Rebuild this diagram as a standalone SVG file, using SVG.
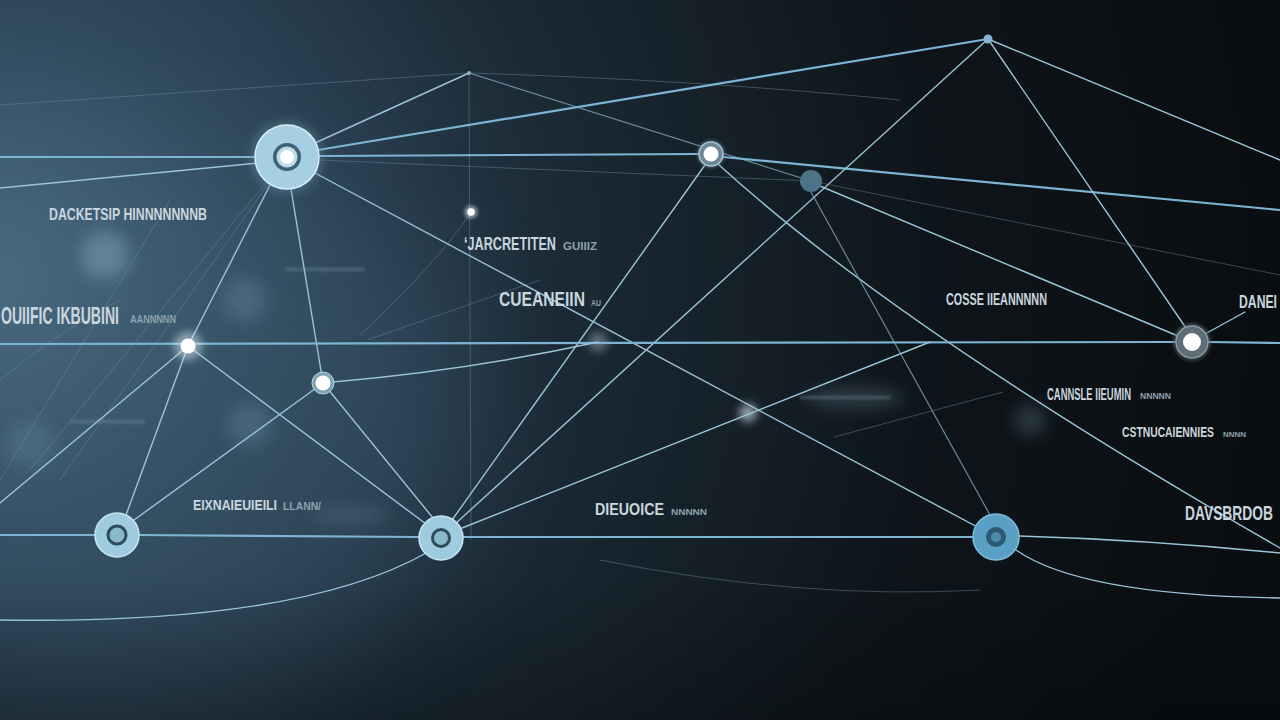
<svg xmlns="http://www.w3.org/2000/svg" width="1280" height="720" viewBox="0 0 1280 720">
<defs>
<radialGradient id="bg1" cx="0" cy="280" r="1250" gradientUnits="userSpaceOnUse">
<stop offset="0" stop-color="#4d6f86"/>
<stop offset="0.2" stop-color="#314b5e"/>
<stop offset="0.45" stop-color="#1b2a35"/>
<stop offset="0.75" stop-color="#0e151a"/>
<stop offset="1" stop-color="#0a0e11"/>
</radialGradient>
<linearGradient id="bgv" x1="0" y1="0" x2="0" y2="720" gradientUnits="userSpaceOnUse">
<stop offset="0" stop-color="#000" stop-opacity="0"/>
<stop offset="0.8" stop-color="#000" stop-opacity="0"/>
<stop offset="1" stop-color="#000" stop-opacity="0.2"/>
</linearGradient>
<filter id="blur8" x="-100%" y="-100%" width="300%" height="300%"><feGaussianBlur stdDeviation="8"/></filter>
<filter id="blur40" x="-100%" y="-100%" width="300%" height="300%"><feGaussianBlur stdDeviation="60"/></filter>
<filter id="blur4" x="-100%" y="-100%" width="300%" height="300%"><feGaussianBlur stdDeviation="4"/></filter>
<filter id="blur2" x="-100%" y="-100%" width="300%" height="300%"><feGaussianBlur stdDeviation="1.6"/></filter>
<filter id="blur1" x="-50%" y="-50%" width="200%" height="200%"><feGaussianBlur stdDeviation="0.6"/></filter>
<style>
.strong{fill:none;stroke:#7db4d4;stroke-width:2.2;stroke-linecap:round}
.thin{fill:none;stroke:#9ac4d8;stroke-width:1.4;stroke-linecap:round}
.mid{fill:none;stroke:#7fa5b9;stroke-width:1.2;stroke-linecap:round;opacity:0.8}
.faint{fill:none;stroke:#6f8ea0;stroke-width:1;opacity:0.45}
.lbl{font-family:"Liberation Sans",Arial,sans-serif;font-weight:bold;fill:#cad6de}
.tail{font-family:"Liberation Sans",Arial,sans-serif;font-weight:bold;fill:#8ea2ae}
.bar{fill:#7890a0;opacity:0.45;filter:url(#blur2)}
</style>
</defs>

<rect width="1280" height="720" fill="url(#bg1)"/>
<ellipse cx="150" cy="420" rx="320" ry="260" fill="#3f5e74" opacity="0.35" filter="url(#blur40)"/>
<rect width="1280" height="720" fill="url(#bgv)"/>

<g id="glows">
<circle cx="105" cy="255" r="24" fill="#9fc4da" opacity="0.35" filter="url(#blur8)"/>
<circle cx="245" cy="300" r="22" fill="#7fa6bc" opacity="0.25" filter="url(#blur8)"/>
<circle cx="250" cy="425" r="22" fill="#7fa6bc" opacity="0.25" filter="url(#blur8)"/>
<circle cx="30" cy="445" r="24" fill="#7fa6bc" opacity="0.2" filter="url(#blur8)"/>
<ellipse cx="855" cy="398" rx="50" ry="10" fill="#6f8c9e" opacity="0.3" filter="url(#blur8)"/>
<circle cx="1030" cy="420" r="16" fill="#5f7c8e" opacity="0.35" filter="url(#blur8)"/>
<ellipse cx="350" cy="515" rx="40" ry="9" fill="#6f8c9e" opacity="0.25" filter="url(#blur8)"/>
<circle cx="598" cy="342" r="10" fill="#cfe6f2" opacity="0.35" filter="url(#blur4)"/>
<circle cx="748" cy="413" r="9" fill="#e8f6ff" opacity="0.6" filter="url(#blur4)"/>
</g>

<g id="bars">
<rect class="bar" x="285" y="268" width="80" height="3"/>
<rect class="bar" x="70" y="420" width="75" height="3"/>
<rect class="bar" x="800" y="396" width="90" height="3"/>
</g>

<g id="connectors">
<line class="faint" x1="0" y1="105" x2="469" y2="73"/>
<path class="faint" d="M469 73 Q700 80 900 100"/>
<line class="faint" x1="469" y1="73" x2="471" y2="540"/>
<line class="mid" x1="469" y1="73" x2="811" y2="181"/>
<line class="faint" x1="320" y1="160" x2="811" y2="181"/>
<path class="faint" d="M471 212 Q440 260 360 335"/>
<line class="faint" x1="367" y1="340" x2="540" y2="280"/>
<line class="faint" x1="834" y1="437" x2="1003" y2="392"/>
<line class="faint" x1="0" y1="480" x2="170" y2="200"/>
<line class="faint" x1="30" y1="470" x2="287" y2="157"/>
<line class="faint" x1="60" y1="480" x2="287" y2="157"/>
<path class="faint" d="M0 380 Q60 330 120 300"/>
<path class="faint" d="M600 560 Q800 600 980 590"/>
<line class="faint" x1="811" y1="181" x2="1280" y2="275"/>

<line class="strong" x1="0" y1="157" x2="256" y2="157"/>
<line class="thin" x1="0" y1="188" x2="258" y2="163"/>
<line class="thin" x1="315" y1="143" x2="469" y2="73"/>
<line class="strong" x1="318" y1="150" x2="988" y2="39"/>
<line class="strong" x1="319" y1="156" x2="699" y2="154"/>
<line class="thin" x1="270" y1="185" x2="188" y2="346"/>
<line class="thin" x1="291" y1="189" x2="323" y2="383"/>
<line class="thin" x1="315" y1="173" x2="996" y2="537"/>
<line class="strong" x1="723" y1="157" x2="1280" y2="210"/>
<line class="thin" x1="705" y1="165" x2="452" y2="520"/>
<path class="thin" d="M718 164 Q900 330 1280 548"/>
<line class="thin" x1="988" y1="39" x2="455" y2="524"/>
<line class="thin" x1="988" y1="39" x2="1280" y2="160"/>
<line class="thin" x1="988" y1="39" x2="1186" y2="328"/>
<line class="thin" x1="820" y1="186" x2="1178" y2="336"/>
<line class="mid" x1="811" y1="192" x2="990" y2="515"/>
<line class="strong" x1="0" y1="344" x2="1176" y2="342"/>
<line class="strong" x1="1208" y1="342" x2="1280" y2="343"/>
<line class="thin" x1="1205" y1="334" x2="1245" y2="312"/>
<line class="thin" x1="188" y1="346" x2="0" y2="503"/>
<line class="thin" x1="188" y1="346" x2="126" y2="515"/>
<line class="thin" x1="188" y1="346" x2="426" y2="524"/>
<line class="thin" x1="323" y1="383" x2="134" y2="520"/>
<line class="thin" x1="323" y1="383" x2="433" y2="518"/>
<path class="thin" d="M333 382 Q470 370 598 342"/>
<line class="thin" x1="462" y1="528" x2="930" y2="342"/>
<line class="strong" x1="0" y1="535" x2="95" y2="535"/>
<line class="strong" x1="139" y1="535" x2="419" y2="537"/>
<line class="strong" x1="463" y1="537" x2="973" y2="537"/>
<path class="thin" d="M1019 536 Q1150 540 1280 553"/>
<path class="thin" d="M1016 550 Q1080 595 1280 598"/>
<path class="thin" d="M428 552 Q300 625 0 620"/>
</g>

<g id="node-A">
<circle cx="287" cy="157" r="37" fill="#6d9bb6" opacity="0.35" filter="url(#blur4)"/>
<circle cx="287" cy="157" r="32" fill="#a6cfe3" stroke="#d7edf7" stroke-width="1.5"/>
<circle cx="287" cy="157" r="14" fill="#3f6376"/>
<circle cx="287" cy="157" r="10.5" fill="#bcdcea"/>
<circle cx="287" cy="157" r="7" fill="#ffffff"/>
</g>
<g id="node-B">
<circle cx="711" cy="154" r="14" fill="#5d7a8c" opacity="0.6" filter="url(#blur2)"/>
<circle cx="711" cy="154" r="12" fill="#6f8797" stroke="#a9c6d6" stroke-width="1.5"/>
<circle cx="711" cy="154" r="7.5" fill="#ffffff"/>
</g>
<g id="node-C">
<circle cx="811" cy="181" r="11" fill="#4d7389" filter="url(#blur1)"/>
</g>
<g id="node-D">
<circle cx="988" cy="39" r="4.5" fill="#86b6d0"/>
</g>
<g id="node-E">
<circle cx="469" cy="73" r="2" fill="#8fb2c4"/>
</g>
<g id="node-F">
<circle cx="471" cy="212" r="7" fill="#ffffff" opacity="0.4" filter="url(#blur2)"/>
<circle cx="471" cy="212" r="3.8" fill="#ffffff"/>
</g>
<g id="node-G">
<circle cx="188" cy="346" r="14" fill="#e6f4ff" opacity="0.5" filter="url(#blur4)"/>
<circle cx="188" cy="346" r="7.5" fill="#ffffff"/>
</g>
<g id="node-H">
<circle cx="323" cy="383" r="11" fill="#7fa4b8" stroke="#b4d3e2" stroke-width="1"/>
<circle cx="323" cy="383" r="7.5" fill="#ffffff"/>
</g>
<g id="node-I">
<circle cx="1192" cy="342" r="19" fill="#4f5f69" opacity="0.6" filter="url(#blur2)"/>
<circle cx="1192" cy="342" r="16" fill="#5e6d76" stroke="#8c9aa2" stroke-width="1.5"/>
<circle cx="1192" cy="342" r="9" fill="#ffffff"/>
</g>
<g id="node-J">
<circle cx="117" cy="535" r="22" fill="#9ecbe0" stroke="#c6e4f1" stroke-width="1.5"/>
<circle cx="117" cy="535" r="9" fill="#8ab8cd" stroke="#2f4c5c" stroke-width="3"/>
</g>
<g id="node-K">
<circle cx="441" cy="538" r="22" fill="#9ecbe0" stroke="#c6e4f1" stroke-width="1.5"/>
<circle cx="441" cy="538" r="8.5" fill="#8ab8cd" stroke="#2f4c5c" stroke-width="3"/>
</g>
<g id="node-L">
<circle cx="996" cy="537" r="23" fill="#5aa0c4" stroke="#7fbedb" stroke-width="1.5"/>
<circle cx="996" cy="537" r="10" fill="#2b5a72"/>
<circle cx="996" cy="537" r="5" fill="#4d8aa8"/>
</g>

<g id="labels">
<text class="lbl" transform="translate(49,220) scale(1,1.4)" font-size="12.3" textLength="158" lengthAdjust="spacingAndGlyphs">DACKETSIP HINNNNNNNB</text>
<text class="lbl" transform="translate(1,324) scale(1,1.7)" font-size="14" textLength="118" lengthAdjust="spacingAndGlyphs">OUIIFIC IKBUBINI</text>
<text class="tail" transform="translate(130,323) scale(1,1.2)" font-size="9" textLength="46" lengthAdjust="spacingAndGlyphs">AANNNNN</text>
<text class="lbl" transform="translate(464,250) scale(1,1.45)" font-size="12.6" textLength="92" lengthAdjust="spacingAndGlyphs">‘JARCRETITEN</text>
<text class="tail" transform="translate(563,250)" font-size="11" textLength="34" lengthAdjust="spacingAndGlyphs">GUIIIZ</text>
<text class="lbl" transform="translate(499,306) scale(1,1.25)" font-size="15.5" textLength="86" lengthAdjust="spacingAndGlyphs">CUEANEIIN</text>
<text class="tail" transform="translate(591,306) scale(1,1.4)" font-size="6.9" textLength="10" lengthAdjust="spacingAndGlyphs">AU</text>
<text class="lbl" transform="translate(946,305) scale(1,1.55)" font-size="10.8" textLength="101" lengthAdjust="spacingAndGlyphs">COSSE IIEANNNNN</text>
<text class="lbl" transform="translate(1239,308) scale(1,1.6)" font-size="12" textLength="38" lengthAdjust="spacingAndGlyphs">DANEI</text>
<text class="lbl" transform="translate(1047,400) scale(1,1.8)" font-size="9.4" textLength="84" lengthAdjust="spacingAndGlyphs">CANNSLE IIEUMIN</text>
<text class="tail" transform="translate(1140,399)" font-size="8.5" textLength="31" lengthAdjust="spacingAndGlyphs">NNNNN</text>
<text class="lbl" transform="translate(1122,437) scale(1,1.5)" font-size="10.3" textLength="92" lengthAdjust="spacingAndGlyphs">CSTNUCAIENNIES</text>
<text class="tail" transform="translate(1223,437)" font-size="7.9" textLength="23" lengthAdjust="spacingAndGlyphs">NNNN</text>
<text class="lbl" transform="translate(193,510) scale(1,1.3)" font-size="11.1" textLength="84" lengthAdjust="spacingAndGlyphs">EIXNAIEUIEILI</text>
<text class="tail" transform="translate(283,510)" font-size="10.3" textLength="38" lengthAdjust="spacingAndGlyphs">LLANN/</text>
<text class="lbl" transform="translate(595,515) scale(1,1.2)" font-size="14.2" textLength="69" lengthAdjust="spacingAndGlyphs">DIEUOICE</text>
<text class="tail" transform="translate(671,515)" font-size="9.9" textLength="36" lengthAdjust="spacingAndGlyphs">NNNNN</text>
<text class="lbl" transform="translate(1185,520) scale(1,1.45)" font-size="13.6" textLength="88" lengthAdjust="spacingAndGlyphs">DAVSBRDOB</text>
</g>
</svg>
